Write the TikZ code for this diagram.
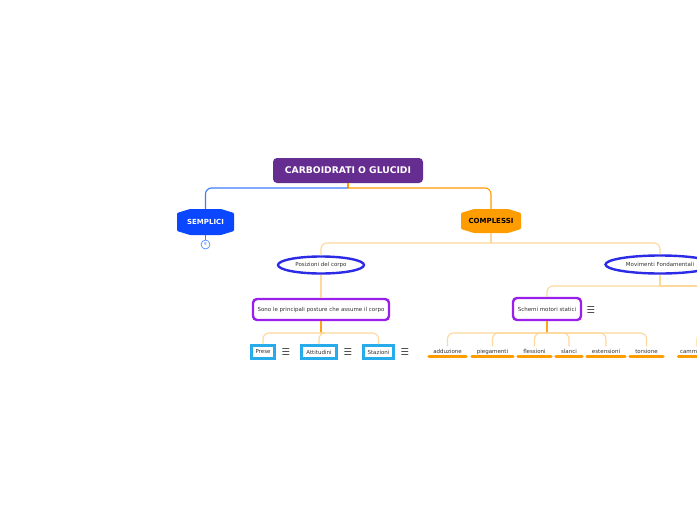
\documentclass[tikz,border=0pt]{standalone}
\usepackage{fontspec}
\setmainfont{DejaVu Sans}
\usetikzlibrary{shapes.geometric,shapes.misc}
\definecolor{rootc}{HTML}{662D91}
\definecolor{sempc}{HTML}{0A47FF}
\definecolor{bline}{HTML}{3D7BFF}
\definecolor{compc}{HTML}{FF9C00}
\definecolor{orl}{HTML}{FFA31A}
\definecolor{lor}{HTML}{FDD89B}
\definecolor{ellc}{HTML}{2B2BE6}
\definecolor{purc}{HTML}{9A1FEA}
\definecolor{cyanc}{HTML}{27ABEB}
\definecolor{txtc}{HTML}{333333}
\definecolor{iconc}{HTML}{444444}
\tikzset{
  rootbox/.style={fill=rootc, rounded corners=4pt, minimum width=150pt, minimum height=25pt, inner sep=0pt, text=white, font=\fontsize{9.2}{11}\selectfont\bfseries},
  hexbox/.style={rectangle, inner sep=0pt, font=\fontsize{7}{8}\selectfont\bfseries,
    path picture={\fill[#1, rounded corners=1pt]
      ([yshift=-4pt]path picture bounding box.north west) --
      ([xshift=13pt]path picture bounding box.north west) --
      ([xshift=-13pt]path picture bounding box.north east) --
      ([yshift=-4pt]path picture bounding box.north east) --
      ([yshift=4pt]path picture bounding box.south east) --
      ([xshift=-13pt]path picture bounding box.south east) --
      ([xshift=13pt]path picture bounding box.south west) --
      ([yshift=4pt]path picture bounding box.south west) -- cycle;}},
  ellbox/.style={ellipse, draw=ellc, line width=2.4pt, inner sep=0pt, text=txtc, font=\fontsize{5.5}{6.5}\selectfont},
  purbox/.style={draw=purc, line width=2.4pt, rounded corners=4pt, inner sep=0pt, text=txtc, font=\fontsize{5.5}{6.5}\selectfont},
  cybox/.style={draw=cyanc, line width=3pt, inner sep=0pt, minimum height=13pt, text=txtc, font=\fontsize{5.5}{6.5}\selectfont},
  leaf/.style={inner sep=0pt, minimum height=10pt, text=txtc, font=\fontsize{5.5}{6.5}\selectfont,
    append after command={([xshift=1.5pt]\tikzlastnode.south west) edge[bar] ([xshift=-1.5pt]\tikzlastnode.south east)}},
  bar/.style={draw=compc, line width=3pt, line cap=round},
  icon/.style={inner sep=0pt, text=iconc, font=\fontsize{9.5}{10}\selectfont},
  lo/.style={draw=lor, line width=1.1pt, rounded corners=6pt},
  ol/.style={draw=orl, line width=1.1pt},
  bl/.style={draw=bline, line width=1.1pt, rounded corners=6pt},
}
\begin{document}
\begin{tikzpicture}[x=1pt,y=-1pt]
\useasboundingbox (0,0) rectangle (697,520);
\clip (0,0) rectangle (697,520);
\fill[white] (0,0) rectangle (697,520);

% nodes
\node[rootbox] (root) at (348,170.5) {CARBOIDRATI O GLUCIDI};
\node[hexbox=sempc, text=white, minimum width=57pt, minimum height=26pt] (semp) at (205.5,222) {SEMPLICI};
\node[circle, draw=bline, line width=0.6pt, minimum size=9pt, inner sep=0pt, text=bline, font=\fontsize{4}{4.5}\selectfont] (cnt) at (205.5,244.5) {9};
\node[hexbox=compc, text=black, minimum width=60pt, minimum height=24pt] (comp) at (491,221) {COMPLESSI};

\node[ellbox, minimum width=86pt, minimum height=17pt] (pos) at (321,265) {Posizioni del corpo};
\node[ellbox, minimum width=109pt, minimum height=18pt] (mov) at (660,264.5) {Movimenti Fondamentali};

\node[purbox, minimum width=136pt, minimum height=21pt] (sono) at (321,309.5) {Sono le principali posture che assume il corpo};
\node[purbox, minimum width=68pt, minimum height=22pt] (sch) at (547,309) {Schemi motori statici};
\node[icon] (ic4) at (591,310) {☰};

\node[cybox, minimum width=23pt] (prese) at (263,352) {Prese};
\node[cybox, minimum width=35pt] (att) at (319,352) {Attitudini};
\node[cybox, minimum width=30pt] (staz) at (378.5,352) {Stazioni};
\node[icon] (ic1) at (286,352.5) {☰};
\node[icon] (ic2) at (348,352.5) {☰};
\node[icon] (ic3) at (405,352.5) {☰};

\node[leaf, minimum width=40pt] (add) at (447.5,351.5) {adduzione};
\node[leaf, minimum width=44pt] (pie) at (492.5,351.5) {piegamenti};
\node[leaf, minimum width=36pt] (fle) at (534.5,351.5) {flessioni};
\node[leaf, minimum width=29pt] (sla) at (569,351.5) {slanci};
\node[leaf, minimum width=41pt] (est) at (606,351.5) {estensioni};
\node[leaf, minimum width=36pt] (tor) at (646.5,351.5) {torsione};
\node[leaf, minimum width=56pt, text width=50pt, align=left] (cam) at (705,351.5) {camm};

% junctions
\coordinate (rj) at (348,188);
\coordinate (cj) at (491,243);
\coordinate (mj) at (660,286);
\coordinate (me) at (720,286);
\coordinate (pj) at (321,333);
\coordinate (sj) at (547,333);
\coordinate (cr) at (730,333);

% connectors
\draw[ol, draw=compc] (root.south) -- (rj);
\draw[bl] (rj) -| (semp.north);
\draw[ol, draw=compc, rounded corners=6pt] (rj) -| (comp.north);
\draw[bl, line width=0.8pt] (semp.south) -- (cnt.north);

\draw[lo] (comp.south) -- (cj);
\draw[lo] (cj) -| (pos.north);
\draw[lo] (cj) -| (mov.north);

\draw[lo] (pos.south) -- (sono.north);
\draw[ol] (sono.south) -- (pj);
\draw[lo] (pj) -| (prese.north);
\draw[lo] (pj) -| (att.north);
\draw[lo] (pj) -| (staz.north);

\draw[lo] (mov.south) -- (mj);
\draw[lo] (mj) -| (sch.north);
\draw[lo] (mj) -- (me);

\draw[ol] (sch.south) -- (sj);
\draw[lo] (sj) -| (add.north);
\draw[lo] (sj) -| (pie.north);
\draw[lo] (sj) -| (fle.north);
\draw[lo] (sj) -| (sla.north);
\draw[lo] (sj) -| (est.north);
\draw[lo] (sj) -| (tor.north);
\draw[lo] (cr) -| ([xshift=-8pt]cam.north);
\end{tikzpicture}
\end{document}
